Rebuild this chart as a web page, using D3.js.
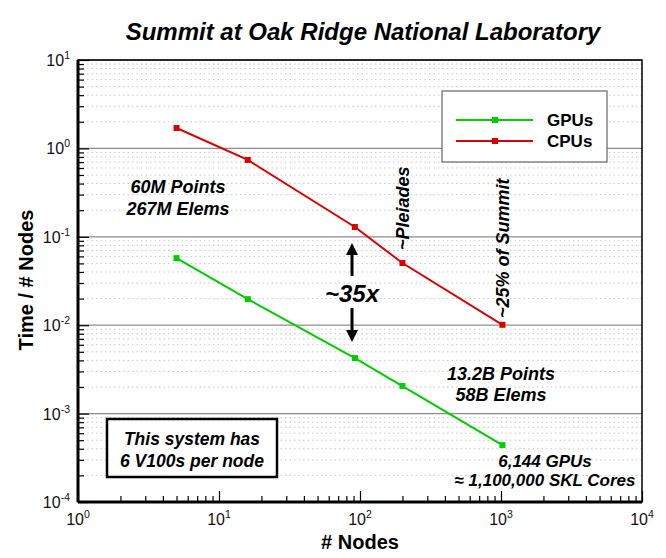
<!DOCTYPE html>
<html><head><meta charset="utf-8">
<script src="https://cdn.jsdelivr.net/npm/d3@7"></script>
<style>body{margin:0;background:#fff}svg{display:block}text{font-family:"Liberation Sans",Arial,sans-serif}</style>
</head><body><svg id="c" width="666" height="558"></svg>
<script>
const nodes = [5, 16, 92, 200, 1024];
const gpuTime = [0.0574, 0.0197, 0.00425, 0.00205, 0.00044];
const cpuTime = [1.70, 0.74, 0.129, 0.0505, 0.0101];
const xExponents = [0, 1, 2, 3, 4];
const yExponents = [-4, -3, -2, -1, 0, 1];
const seriesNames = ["GPUs", "CPUs"];
const seriesColors = ["#00cc00", "#dd0000"];

const svg = d3.select("#c");
const L = 78, R = 642, T = 60, B = 502;
const x = d3.scaleLog().domain([1, 1e4]).range([L, R]);
const y = d3.scaleLog().domain([1e-4, 10]).range([B, T]);

const majX = xExponents.map(e => Math.pow(10, e));
const majY = yExponents.map(e => Math.pow(10, e));
const minX = [], minY = [];
xExponents.slice(0, -1).forEach(e => { for (let k = 2; k <= 9; k++) minX.push(k * Math.pow(10, e)); });
yExponents.slice(0, -1).forEach(e => { for (let k = 2; k <= 9; k++) minY.push(k * Math.pow(10, e)); });

// grid
const g = svg.append("g");
g.selectAll(".mg").data(minY).enter().append("line")
  .attr("x1", L).attr("x2", R).attr("y1", d => y(d)).attr("y2", d => y(d))
  .attr("stroke", "#c8c8c8").attr("stroke-width", 1).attr("stroke-dasharray", "1.5,3");
g.selectAll(".Mg").data(majY).enter().append("line")
  .attr("x1", L).attr("x2", R).attr("y1", d => y(d)).attr("y2", d => y(d))
  .attr("stroke", "#8c8c8c").attr("stroke-width", 1.3);

// axes ticks (inside)
const ax = svg.append("g");
ax.append("g").attr("transform", `translate(0,${B})`)
  .call(d3.axisBottom(x).tickValues(minX).tickSizeInner(-6).tickSizeOuter(0).tickFormat(""));
ax.append("g").attr("transform", `translate(0,${B})`)
  .call(d3.axisBottom(x).tickValues(majX).tickSizeInner(-11).tickSizeOuter(0).tickFormat(""));
ax.append("g").attr("transform", `translate(${L},0)`)
  .call(d3.axisLeft(y).tickValues(minY).tickSizeInner(-6).tickSizeOuter(0).tickFormat(""));
ax.append("g").attr("transform", `translate(${L},0)`)
  .call(d3.axisLeft(y).tickValues(majY).tickSizeInner(-11).tickSizeOuter(0).tickFormat(""));
ax.selectAll(".domain").remove();
ax.selectAll(".tick line").attr("stroke", "#000").attr("stroke-width", 1.2);

// frame
svg.append("rect").attr("x", L).attr("y", T).attr("width", R - L).attr("height", B - T)
  .attr("fill", "none").attr("stroke", "#000").attr("stroke-width", 1.5);
svg.append("line").attr("x1", L).attr("x2", L).attr("y1", T).attr("y2", B).attr("stroke", "#000").attr("stroke-width", 3);
svg.append("line").attr("x1", L).attr("x2", R).attr("y1", B).attr("y2", B).attr("stroke", "#000").attr("stroke-width", 3);

// tick labels
xExponents.forEach(e => {
  const t = svg.append("text").attr("x", x(Math.pow(10, e))).attr("y", 525)
    .attr("text-anchor", "middle").attr("font-size", 16).attr("fill", "#111");
  t.append("tspan").text("10");
  t.append("tspan").attr("dy", -7).attr("font-size", 10.5).text(e);
});
yExponents.forEach(e => {
  const t = svg.append("text").attr("x", 70).attr("y", y(Math.pow(10, e)) + 6)
    .attr("text-anchor", "end").attr("font-size", 16).attr("fill", "#111");
  t.append("tspan").text("10");
  t.append("tspan").attr("dy", -7).attr("font-size", 10.5).text(e);
});

// axis titles
svg.append("text").attr("x", 360).attr("y", 549).attr("text-anchor", "middle")
  .attr("font-size", 20).attr("font-weight", "bold").text("# Nodes");
svg.append("text").attr("transform", "translate(33,280) rotate(-90)").attr("text-anchor", "middle")
  .attr("font-size", 20).attr("font-weight", "bold").text("Time / # Nodes");
svg.append("text").attr("x", 363).attr("y", 40).attr("text-anchor", "middle")
  .attr("font-size", 24).attr("font-weight", "bold").attr("font-style", "italic").text("Summit at Oak Ridge National Laboratory");

// series
const series = [gpuTime, cpuTime];
const line = d3.line().x(d => x(d[0])).y(d => y(d[1]));
series.forEach((s, i) => {
  const pts = nodes.map((n, j) => [n, s[j]]);
  svg.append("path").attr("d", line(pts)).attr("fill", "none")
    .attr("stroke", seriesColors[i]).attr("stroke-width", 2);
  svg.selectAll(null).data(pts).enter().append("rect")
    .attr("x", d => x(d[0]) - 3).attr("y", d => y(d[1]) - 3).attr("width", 6).attr("height", 6)
    .attr("fill", seriesColors[i]);
});

// legend
svg.append("rect").attr("x", 442).attr("y", 91).attr("width", 165).attr("height", 71)
  .attr("fill", "#fff").attr("stroke", "#666").attr("stroke-width", 1.2);
seriesNames.forEach((nm, i) => {
  const ly = 120 + i * 21;
  svg.append("line").attr("x1", 456).attr("x2", 533).attr("y1", ly).attr("y2", ly)
    .attr("stroke", seriesColors[i]).attr("stroke-width", 2);
  svg.append("rect").attr("x", 492).attr("y", ly - 3).attr("width", 6).attr("height", 6).attr("fill", seriesColors[i]);
  svg.append("text").attr("x", 547).attr("y", ly + 6).attr("font-size", 17).attr("font-weight", "bold").text(nm);
});

// annotations
const ann = (tx, ty, str, size, anchor, rot) => {
  const t = svg.append("text").attr("font-size", size).attr("font-weight", "bold").attr("font-style", "italic")
    .attr("text-anchor", anchor || "middle").text(str);
  if (rot) t.attr("transform", `translate(${tx},${ty}) rotate(-90)`); else t.attr("x", tx).attr("y", ty);
};
ann(178, 193, "60M Points", 18);
ann(178, 215, "267M Elems", 18);
ann(501, 380, "13.2B Points", 18);
ann(501, 401, "58B Elems", 18);
ann(545, 467, "6,144 GPUs", 17);
ann(545, 486, "≈ 1,100,000 SKL Cores", 17);
ann(409, 250, "~Pleiades", 18, "start", true);
ann(509, 318, "~25% of Summit", 18, "start", true);
ann(352, 302, "~35x", 24);

// arrows
const arrow = (x0, yTip, yEnd) => {
  const dir = yEnd > yTip ? 1 : -1;
  svg.append("line").attr("x1", x0).attr("x2", x0).attr("y1", yTip + dir * 8).attr("y2", yEnd)
    .attr("stroke", "#000").attr("stroke-width", 3);
  svg.append("path").attr("d", `M${x0},${yTip} L${x0 - 6},${yTip + dir * 12} L${x0 + 6},${yTip + dir * 12} Z`).attr("fill", "#000");
};
arrow(352, 243, 276);
arrow(352, 342, 308);

// box
svg.append("rect").attr("x", 107).attr("y", 419).attr("width", 170).attr("height", 58)
  .attr("fill", "#fff").attr("stroke", "#000").attr("stroke-width", 2.5);
ann(192, 445, "This system has", 17.5);
ann(192, 467, "6 V100s per node", 17.5);
</script></body></html>
